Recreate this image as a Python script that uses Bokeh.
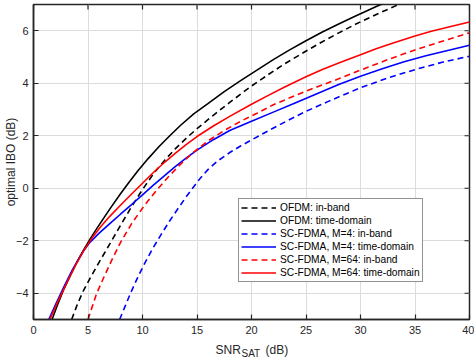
import math
from bokeh.plotting import figure
from bokeh.layouts import column
from bokeh.models import FixedTicker, Label
from bokeh.embed import file_html
from bokeh.resources import INLINE

# ---- data ----
x_ticks = [0, 5, 10, 15, 20, 25, 30, 35, 40]
y_ticks = [-4, -2, 0, 2, 4, 6]
x_lim = (0, 40)
y_lim = (-5, 7)

ofdm_inband_x = [3.5, 4.0, 4.5, 5.2, 6.0, 7.0, 8.0, 9.0, 10.0, 11.0, 12.0, 13.0, 14.0, 15.0, 16.5, 18.0, 19.85, 21.5, 23.0, 24.9, 26.5, 28.0, 29.9, 31.5, 33.4, 35.0]
ofdm_inband_y = [-5.0, -4.45, -3.97, -3.42, -2.83, -2.12, -1.4, -0.7, -0.05, 0.55, 1.05, 1.5, 1.9, 2.27, 2.78, 3.27, 3.85, 4.32, 4.73, 5.2, 5.58, 5.92, 6.32, 6.63, 6.98, 7.26]

ofdm_time_x = [1.7, 2.2, 2.8, 3.5, 4.0, 4.6, 5.2, 5.8, 6.5, 7.2, 8.0, 8.8, 9.6, 10.5, 11.5, 12.5, 13.5, 14.7, 16.0, 17.5, 19.0, 20.5, 22.0, 23.5, 25.0, 26.5, 28.0, 29.5, 31.0, 32.5]
ofdm_time_y = [-5.0, -4.45, -3.83, -3.22, -2.8, -2.35, -1.93, -1.54, -1.1, -0.67, -0.2, 0.25, 0.68, 1.12, 1.58, 2.0, 2.4, 2.83, 3.22, 3.68, 4.1, 4.5, 4.9, 5.27, 5.62, 5.95, 6.26, 6.55, 6.84, 7.12]

m4_inband_x = [7.9, 8.4, 8.9, 9.5, 10.2, 11.0, 11.8, 12.5, 13.3, 14.0, 14.7, 15.3, 16.0, 16.9, 18.0, 19.0, 20.0, 21.5, 23.0, 25.0, 27.0, 30.0, 32.5, 35.0, 37.5, 40.0]
m4_inband_y = [-5.0, -4.5, -4.0, -3.45, -2.86, -2.25, -1.7, -1.24, -0.75, -0.33, 0.06, 0.38, 0.71, 1.04, 1.36, 1.61, 1.84, 2.18, 2.51, 2.93, 3.3, 3.83, 4.2, 4.52, 4.8, 5.03]

m4_time_x = [1.4, 2.0, 2.8, 3.6, 4.6, 5.2, 6.0, 7.0, 8.0, 9.0, 10.0, 11.0, 12.0, 13.0, 14.0, 15.0, 16.5, 18.0, 20.0, 22.0, 24.0, 26.0, 28.0, 30.0, 32.0, 34.0, 36.0, 38.0, 40.0]
m4_time_y = [-5.0, -4.45, -3.75, -3.08, -2.38, -2.05, -1.72, -1.35, -0.98, -0.62, -0.25, 0.12, 0.47, 0.82, 1.15, 1.45, 1.85, 2.2, 2.55, 2.9, 3.25, 3.6, 3.95, 4.27, 4.55, 4.82, 5.05, 5.25, 5.45]

m64_inband_x = [5.0, 5.4, 5.8, 6.5, 7.2, 8.0, 9.0, 10.1, 11.2, 12.3, 13.5, 14.7, 16.0, 17.5, 19.0, 20.5, 22.0, 24.0, 26.0, 28.0, 30.0, 32.5, 35.0, 37.5, 40.0]
m64_inband_y = [-5.0, -4.5, -4.0, -3.35, -2.72, -2.05, -1.35, -0.7, -0.12, 0.4, 0.92, 1.38, 1.8, 2.2, 2.55, 2.86, 3.18, 3.53, 3.86, 4.17, 4.5, 4.9, 5.27, 5.6, 5.92]

m64_time_x = [1.5, 2.2, 3.0, 3.8, 4.6, 5.4, 6.2, 7.0, 8.0, 9.0, 10.0, 11.0, 12.0, 13.0, 14.0, 15.0, 16.5, 18.0, 20.0, 21.5, 23.0, 25.0, 26.5, 28.0, 30.0, 31.5, 33.0, 35.0, 36.5, 38.0, 40.0]
m64_time_y = [-5.0, -4.35, -3.65, -2.98, -2.38, -1.88, -1.45, -1.07, -0.64, -0.22, 0.19, 0.6, 0.98, 1.33, 1.66, 1.97, 2.37, 2.74, 3.2, 3.53, 3.85, 4.25, 4.52, 4.77, 5.09, 5.32, 5.53, 5.8, 5.98, 6.13, 6.33]

series = [
    ("OFDM: in-band", ofdm_inband_x, ofdm_inband_y, "#000000", "dashed"),
    ("OFDM: time-domain", ofdm_time_x, ofdm_time_y, "#000000", "solid"),
    ("SC-FDMA, M=4: in-band", m4_inband_x, m4_inband_y, "#0000ff", "dashed"),
    ("SC-FDMA, M=4: time-domain", m4_time_x, m4_time_y, "#0000ff", "solid"),
    ("SC-FDMA, M=64: in-band", m64_inband_x, m64_inband_y, "#ff0000", "dashed"),
    ("SC-FDMA, M=64: time-domain", m64_time_x, m64_time_y, "#ff0000", "solid"),
]

FONT = "Liberation Sans"
TXT = "#262626"

p = figure(width=474, height=338, x_range=x_lim, y_range=y_lim,
           output_backend="svg", toolbar_location=None,
           min_border_left=33, min_border_right=5, min_border_top=4, min_border_bottom=19)
p.outline_line_color = TXT
p.outline_line_width = 1.5
p.background_fill_color = "white"
p.border_fill_color = "white"

xt = FixedTicker(ticks=x_ticks, minor_ticks=[])
yt = FixedTicker(ticks=y_ticks, minor_ticks=[])

for ax, tk in ((p.xaxis[0], xt), (p.yaxis[0], yt)):
    ax.ticker = tk
    ax.axis_line_color = TXT
    ax.axis_line_width = 1.5
    ax.major_tick_line_color = TXT
    ax.major_tick_line_width = 1.2
    ax.major_tick_in = 5
    ax.major_tick_out = 0
    ax.minor_tick_line_color = None
    ax.major_label_text_font = FONT
    ax.major_label_text_font_size = "11px"
    ax.major_label_text_color = TXT
p.xaxis.major_label_standoff = 6
p.yaxis.major_label_standoff = 5

p.yaxis.axis_label = "optimal IBO (dB)"
p.yaxis.axis_label_text_font = FONT
p.yaxis.axis_label_text_font_size = "12px"
p.yaxis.axis_label_text_font_style = "normal"
p.yaxis.axis_label_text_color = TXT
p.yaxis.axis_label_standoff = -5

p.xgrid.ticker = xt
p.ygrid.ticker = yt
p.grid.grid_line_color = "#dcdcdc"
p.grid.grid_line_width = 1

for name, xs, ys, col, dash in series:
    p.line(xs, ys, line_color=col, line_width=1.6,
           line_dash=("6 4" if dash == "dashed" else "solid"), legend_label=name)

# tick marks on the top and right edges of the box (half of each marker is clipped away)
p.scatter(x=x_ticks, y=[y_lim[1]] * len(x_ticks), marker="dash", size=10, angle=math.pi / 2,
          line_color=TXT, line_width=1.2)
p.scatter(x=[x_lim[1]] * len(y_ticks), y=y_ticks, marker="dash", size=10,
          line_color=TXT, line_width=1.2)

lg = p.legend[0]
lg.location = (205, 37)
lg.label_text_font = FONT
lg.label_text_font_size = "10.2px"
lg.label_text_color = "#000000"
lg.label_height = 13
lg.glyph_height = 13
lg.glyph_width = 35
lg.label_standoff = 4
lg.spacing = 0
lg.padding = 2
lg.margin = 0
lg.border_line_color = TXT
lg.border_line_width = 1
lg.background_fill_color = "white"
lg.background_fill_alpha = 1.0

# x-axis title strip below the plot (its frame is aligned with the main frame): SNR_SAT (dB)
q = figure(width=474, height=20, x_range=p.x_range, y_range=(20, 0),
           output_backend="svg", toolbar_location=None, x_axis_type=None, y_axis_type=None,
           min_border_left=33, min_border_right=5, min_border_top=0, min_border_bottom=0)
q.outline_line_color = None
q.background_fill_color = "white"
q.border_fill_color = "white"
q.xgrid.visible = False
q.ygrid.visible = False
xc = (x_lim[0] + x_lim[1]) / 2
q.add_layout(Label(x=xc, y=11, x_offset=-36, text="SNR", text_align="left", text_baseline="alphabetic",
                   text_font=FONT, text_font_size="12px", text_color=TXT))
q.add_layout(Label(x=xc, y=15, x_offset=-10, text="SAT", text_align="left", text_baseline="alphabetic",
                   text_font=FONT, text_font_size="10px", text_color=TXT))
q.add_layout(Label(x=xc, y=11, x_offset=14, text="(dB)", text_align="left", text_baseline="alphabetic",
                   text_font=FONT, text_font_size="12px", text_color=TXT))

layout = column(p, q, spacing=0)
open("out.html", "w").write(file_html(layout, INLINE))
